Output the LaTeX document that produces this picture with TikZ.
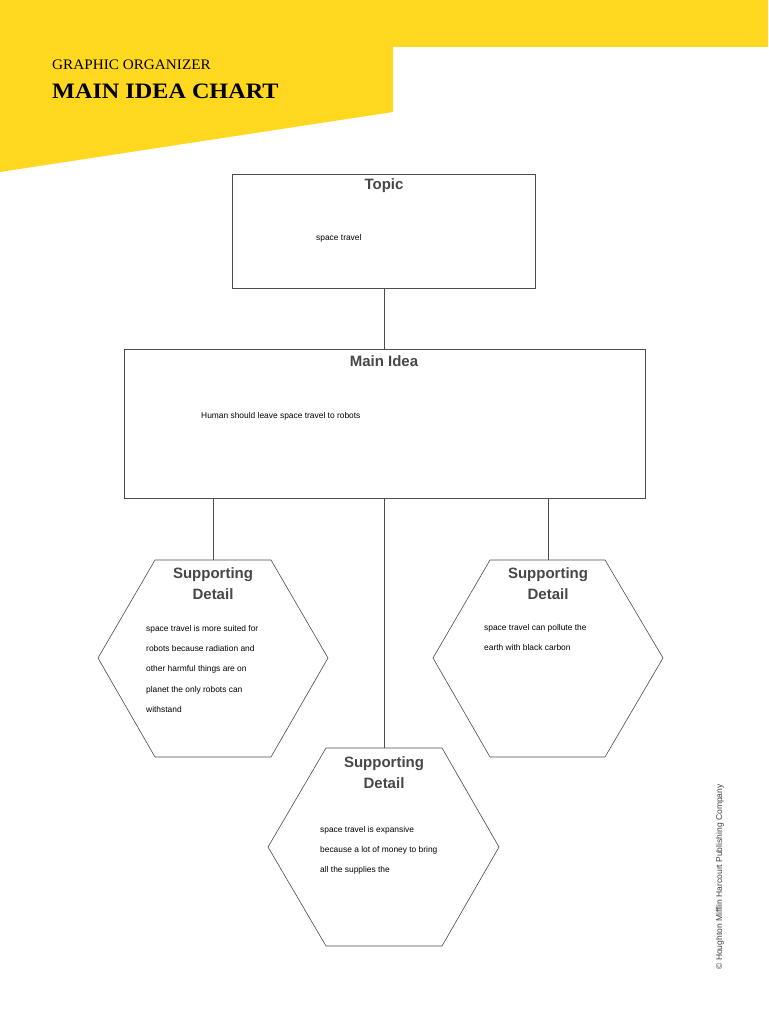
\documentclass[tikz,border=0pt]{standalone}
\usepackage{fontspec}
\setmainfont{Liberation Sans}
\newfontfamily\serifhead{Liberation Serif}
\begin{document}
\begin{tikzpicture}[x=1pt,y=-1pt,
  box/.style={draw=black!70,line width=0.6pt},
  conn/.style={draw=black!70,line width=0.6pt},
  ttl/.style={font=\fontsize{15}{21}\selectfont\bfseries,text=black!72,align=center},
  body/.style={font=\fontsize{8.4}{20.3}\selectfont,anchor=north west,align=left,inner sep=0pt}]
\definecolor{hmyellow}{HTML}{FFD81F}
\useasboundingbox (0,0) rectangle (768,1024);
\fill[hmyellow] (0,0) -- (768,0) -- (768,47) -- (393,47) -- (393,112) -- (0,172) -- cycle;
\node[anchor=west,inner sep=0pt,font=\serifhead\fontsize{14.5}{16}\selectfont,xscale=1.05] (g) at (52,65) {GRAPHIC ORGANIZER};
\node[anchor=west,inner sep=0pt,font=\serifhead\fontsize{22}{24}\selectfont\bfseries,xscale=1.1] (m) at (52,91) {MAIN IDEA CHART};
% boxes
\draw[box] (232,174) rectangle (535,288);
\node[ttl] (topic) at (384,186) {Topic};
\node[body] (tt) at (316,234) {space travel};
\draw[box] (124,349) rectangle (645,498);
\node[ttl] (main) at (384,361) {Main Idea};
\node[body] (mt) at (201,412) {Human should leave space travel to robots};
% hexagons
\coordinate (tb) at (384,288); \coordinate (mtop) at (384,349);
\coordinate (m1) at (213,498); \coordinate (m2) at (384,498); \coordinate (m3) at (548,498);
\coordinate (h1) at (213,560); \coordinate (h2) at (384,748); \coordinate (h3) at (548,560);
\draw[box] (155,560) -- (271,560) -- (328,658) -- (271,757) -- (155,757) -- (98,658) -- cycle;
\draw[box] (490,560) -- (605,560) -- (663,658) -- (605,757) -- (490,757) -- (433,658) -- cycle;
\draw[box] (326,748) -- (442,748) -- (499,847) -- (442,946) -- (326,946) -- (268,847) -- cycle;
\draw[conn] (tb) -- (mtop);
\draw[conn] (m1) -- (h1);
\draw[conn] (m2) -- (h2);
\draw[conn] (m3) -- (h3);
\node[ttl] (s1) at (213,584) {Supporting\\Detail};
\node[ttl] (s3) at (548,584) {Supporting\\Detail};
\node[ttl] (s2) at (384,773) {Supporting\\Detail};
\node[body] (b1) at (146,625) {space travel is more suited for\\robots because radiation and\\other harmful things are on\\planet the only robots can\\withstand};
\node[body] (b3) at (484,624) {space travel can pollute the\\earth with black carbon};
\node[body] (b2) at (320,826) {space travel is expansive\\because a lot of money to bring\\all the supplies the};
\node[rotate=90,font=\fontsize{8.5}{10}\selectfont,text=black!75] (c) at (720,877) {© Houghton Mifflin Harcourt Publishing Company};
\end{tikzpicture}
\end{document}
